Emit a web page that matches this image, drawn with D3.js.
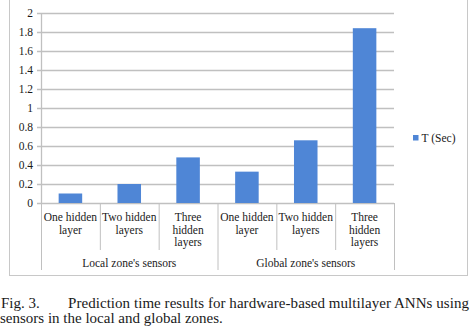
<!DOCTYPE html>
<html>
<head>
<meta charset="utf-8">
<script src="https://cdn.jsdelivr.net/npm/d3@7"></script>
<style>
  html, body { margin: 0; padding: 0; background: #fff; }
  svg { display: block; }
</style>
</head>
<body>
<svg id="chart" width="474" height="329"></svg>
<script>
(function() {
const categories = [
  ["One hidden", "layer"],
  ["Two hidden", "layers"],
  ["Three", "hidden", "layers"],
  ["One hidden", "layer"],
  ["Two hidden", "layers"],
  ["Three", "hidden", "layers"]
];
const groups = ["Local zone's sensors", "Global zone's sensors"];
const groupOf = [0, 0, 0, 1, 1, 1];
const values = [0.1, 0.2, 0.48, 0.33, 0.66, 1.84];
const yTicks = [0, 0.2, 0.4, 0.6, 0.8, 1, 1.2, 1.4, 1.6, 1.8, 2];
const seriesName = "T (Sec)";
const captionLine1a = "Fig. 3.";
const captionLine1b = "Prediction time results for hardware-based multilayer ANNs using";
const captionLine2 = "sensors in the local and global zones.";

const FONT = "'Liberation Serif', 'DejaVu Serif', 'Times New Roman', serif";
const svg = d3.select("#chart");
const pLeft = 41, pRight = 394, pTop = 13, pBottom = 203;
const grid = "#c0c0c0";
const ink = "#1a1a1a";

// outer frame
svg.append("rect").attr("x", 9.5).attr("y", -2).attr("width", 458).attr("height", 277.5)
  .attr("fill", "none").attr("stroke", "#c8c8c8").attr("stroke-width", 1);

const x = d3.scaleBand().domain(d3.range(categories.length)).range([pLeft, pRight]).paddingInner(0.6).paddingOuter(0.3);
const xb = d3.scaleBand().domain(d3.range(categories.length)).range([pLeft, pRight]).padding(0);
const y = d3.scaleLinear().domain([0, 2]).range([pBottom, pTop]);

// gridlines + ticks
const yAxis = d3.axisLeft(y).tickValues(yTicks).tickSize(-(pRight - pLeft)).tickSizeOuter(0)
  .tickFormat(d => String(d)).tickPadding(8);
const gy = svg.append("g").attr("transform", `translate(${pLeft},0)`).call(yAxis);
gy.attr("font-family", null).attr("font-size", null);
gy.select(".domain").remove();
gy.selectAll(".tick line").attr("stroke", grid).attr("stroke-width", 1.3).attr("x1", -4);
gy.selectAll(".tick text").style("font-family", FONT).style("font-size", "11.5px").attr("fill", ink);

// vertical axis line
svg.append("line").attr("x1", pLeft + 0.5).attr("x2", pLeft + 0.5).attr("y1", pTop).attr("y2", pBottom)
  .attr("stroke", grid).attr("stroke-width", 1.3);

// bars
svg.append("g").selectAll("rect").data(values).join("rect")
  .attr("x", (d, i) => x(i))
  .attr("width", x.bandwidth())
  .attr("y", d => y(d))
  .attr("height", d => y(0) - y(d))
  .attr("fill", "#4f86d6");

// category separators
const bounds = d3.range(categories.length + 1);
svg.append("g").selectAll("line").data(bounds).join("line")
  .attr("x1", i => (i < categories.length ? xb(i) : pRight) + 0.5)
  .attr("x2", i => (i < categories.length ? xb(i) : pRight) + 0.5)
  .attr("y1", pBottom)
  .attr("y2", i => (i === 0 || i === categories.length || groupOf[i] !== groupOf[i - 1]) ? 270 : 250)
  .attr("stroke", grid).attr("stroke-width", 1);

function styleText(sel, size) {
  return sel.style("font-family", FONT).style("font-size", size + "px").attr("fill", ink);
}

// category labels
const cl = styleText(svg.append("g").selectAll("text").data(categories).join("text"), 11.5)
  .attr("text-anchor", "middle")
  .attr("x", (d, i) => xb(i) + xb.bandwidth() / 2).attr("y", 221);
cl.selectAll("tspan").data(d => d).join("tspan")
  .attr("x", function() { return d3.select(this.parentNode).attr("x"); })
  .attr("dy", (d, j) => j === 0 ? 0 : 12.5)
  .text(d => d);

// group labels
styleText(svg.append("g").selectAll("text").data(groups).join("text"), 11.5)
  .attr("text-anchor", "middle")
  .attr("x", (g, gi) => {
    const idx = d3.range(categories.length).filter(i => groupOf[i] === gi);
    return (xb(idx[0]) + xb(idx[idx.length - 1]) + xb.bandwidth()) / 2;
  })
  .attr("y", 267).text(d => d);

// legend
svg.append("rect").attr("x", 413).attr("y", 135).attr("width", 5.5).attr("height", 5.5).attr("fill", "#4f86d6");
styleText(svg.append("text"), 11.5).attr("x", 421.5).attr("y", 142).text(seriesName);

// caption
styleText(svg.append("text"), 15).attr("x", 1).attr("y", 308).text(captionLine1a);
styleText(svg.append("text"), 15).attr("x", 68).attr("y", 308)
  .attr("textLength", 401).attr("lengthAdjust", "spacing").text(captionLine1b);
styleText(svg.append("text"), 15).attr("x", 0).attr("y", 323).text(captionLine2);
})();
</script>
</body>
</html>
